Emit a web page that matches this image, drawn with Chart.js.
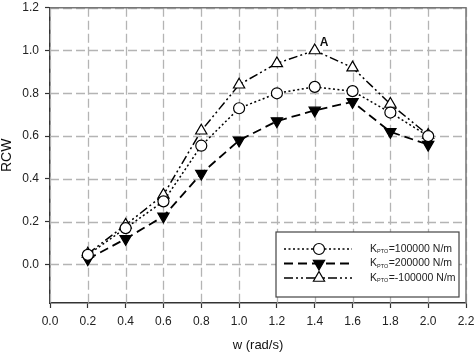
<!DOCTYPE html>
<html>
<head>
<meta charset="utf-8">
<script src="https://cdn.jsdelivr.net/npm/chart.js@4/dist/chart.umd.min.js"></script>
<style>
  html, body { margin: 0; padding: 0; background: #fff; }
  #wrap { width: 474px; height: 352px; }
</style>
</head>
<body>
<div id="wrap"><canvas id="chart1" width="474" height="352"></canvas></div>
<script>
// values
var w = [0.2, 0.4, 0.6, 0.8, 1.0, 1.2, 1.4, 1.6, 1.8, 2.0]
var rcw_100000 = [0.045, 0.17, 0.295, 0.555, 0.73, 0.80, 0.83, 0.81, 0.71, 0.60]
var rcw_200000 = [0.025, 0.12, 0.225, 0.425, 0.58, 0.67, 0.72, 0.76, 0.62, 0.56]
var rcw_neg100000 = [0.05, 0.185, 0.325, 0.625, 0.84, 0.94, 1.0, 0.92, 0.75, 0.605]
var x_ticks = [0.0, 0.2, 0.4, 0.6, 0.8, 1.0, 1.2, 1.4, 1.6, 1.8, 2.0, 2.2]
var y_ticks = [0.0, 0.2, 0.4, 0.6, 0.8, 1.0, 1.2]
var legend_labels = ["=100000 N/m", "=200000 N/m", "=-100000 N/m"]
var note_text = "A"
var note_x = 1.4
var note_y = 1.0

var font_name = "'Liberation Sans', Arial, sans-serif"

function make_points(ys){
    pts = []
    ys.forEach((y, i) => {
        pts.push({x: w[i], y: y})
    })
    return pts
}

function draw_marker(ctx, style, x, y){
    ctx.save()
    ctx.setLineDash([])
    ctx.lineWidth = 1.2
    ctx.strokeStyle = "#000"
    ctx.beginPath()
    if (style == "circle"){
        ctx.arc(x, y, 5.5, 0, Math.PI * 2)
        ctx.fillStyle = "#fff"
    } else if (style == "up"){
        ctx.moveTo(x, y - 6.5)
        ctx.lineTo(x + 5.6, y + 3.25)
        ctx.lineTo(x - 5.6, y + 3.25)
        ctx.closePath()
        ctx.fillStyle = "#fff"
    } else {
        ctx.moveTo(x, y + 6.5)
        ctx.lineTo(x + 5.6, y - 3.25)
        ctx.lineTo(x - 5.6, y - 3.25)
        ctx.closePath()
        ctx.fillStyle = "#000"
    }
    ctx.fill()
    ctx.stroke()
    ctx.restore()
}

var markers = ["circle", "down", "up"]

const gridPlugin = {
    id: "dashgrid",
    beforeDatasetsDraw(chart){
        var ctx = chart.ctx
        var a = chart.chartArea
        var xs = chart.scales.x
        var ys = chart.scales.y
        ctx.save()
        ctx.strokeStyle = "#b4b4b4"
        ctx.lineWidth = 1.3
        ctx.setLineDash([9, 4])
        x_ticks.forEach(v => {
            var px = Math.round(xs.getPixelForValue(v)) + 0.5
            ctx.beginPath()
            ctx.moveTo(px, a.top)
            ctx.lineTo(px, a.bottom)
            ctx.stroke()
        })
        y_ticks.forEach(v => {
            var py = Math.round(ys.getPixelForValue(v)) + 0.5
            ctx.beginPath()
            ctx.moveTo(a.left, py)
            ctx.lineTo(a.right, py)
            ctx.stroke()
        })
        ctx.restore()
    }
}

const framePlugin = {
    id: "frame",
    afterDraw(chart){
        var ctx = chart.ctx
        var a = chart.chartArea
        var xs = chart.scales.x
        var ys = chart.scales.y
        ctx.save()
        // top and right frame
        ctx.strokeStyle = "#777"
        ctx.lineWidth = 1.5
        ctx.beginPath()
        ctx.moveTo(a.left, a.top)
        ctx.lineTo(a.right, a.top)
        ctx.lineTo(a.right, a.bottom)
        ctx.stroke()

        // note "A"
        ctx.fillStyle = "#111"
        ctx.font = "bold 12px " + font_name
        ctx.textAlign = "left"
        ctx.textBaseline = "middle"
        ctx.fillText(note_text, xs.getPixelForValue(note_x) + 5, ys.getPixelForValue(note_y) - 8)

        // legend box
        var bx = 276, by = 232, bw = 183, bh = 65
        ctx.fillStyle = "#fff"
        ctx.fillRect(bx, by, bw, bh)
        ctx.strokeStyle = "#444"
        ctx.lineWidth = 1.2
        ctx.strokeRect(bx, by, bw, bh)

        chart.data.datasets.forEach((ds, i) => {
            var ry = by + 17 + i * 14.5
            ctx.save()
            ctx.strokeStyle = "#000"
            ctx.lineWidth = ds.borderWidth
            ctx.setLineDash(ds.borderDash)
            ctx.beginPath()
            ctx.moveTo(bx + 8, ry)
            ctx.lineTo(bx + 76, ry)
            ctx.stroke()
            ctx.restore()
            draw_marker(ctx, markers[i], bx + 43, ry)

            ctx.fillStyle = "#222"
            ctx.textBaseline = "middle"
            ctx.textAlign = "left"
            ctx.font = "10.5px " + font_name
            var tx = bx + 94
            ctx.fillText("K", tx, ry)
            tx += ctx.measureText("K").width
            ctx.font = "5.5px " + font_name
            ctx.fillText("PTO", tx, ry + 2.5)
            tx += ctx.measureText("PTO").width + 0.5
            ctx.font = "10.5px " + font_name
            ctx.fillText(legend_labels[i], tx, ry)
        })
        ctx.restore()
    }
}

var ctx1 = document.getElementById("chart1")
const myChart = new Chart(ctx1, {
    type: "line",
    data: {
        datasets: [{
            data: make_points(rcw_100000),
            borderColor: "#000",
            borderWidth: 1.5,
            borderDash: [2, 2.5],
            pointStyle: "circle",
            pointRadius: 5.5,
            pointBackgroundColor: "#fff",
            pointBorderColor: "#000",
            pointBorderWidth: 1.2
        }, {
            data: make_points(rcw_200000),
            borderColor: "#000",
            borderWidth: 1.8,
            borderDash: [9, 5],
            pointStyle: "triangle",
            pointRotation: 180,
            pointRadius: 6.5,
            pointBackgroundColor: "#000",
            pointBorderColor: "#000",
            pointBorderWidth: 1.2
        }, {
            data: make_points(rcw_neg100000),
            borderColor: "#000",
            borderWidth: 1.5,
            borderDash: [9, 3, 2, 3, 2, 3],
            pointStyle: "triangle",
            pointRadius: 6.5,
            pointBackgroundColor: "#fff",
            pointBorderColor: "#000",
            pointBorderWidth: 1.2
        }]
    },
    options: {
        responsive: false,
        animation: false,
        layout: { padding: { top: 4, right: 8, left: 0, bottom: 0 } },
        scales: {
            x: {
                type: "linear",
                min: 0,
                max: 2.2,
                afterFit: function(scale){
                    scale.height = 49
                    scale.paddingLeft = 0
                    scale.paddingRight = 0
                },
                afterBuildTicks: function(scale){
                    scale.ticks = x_ticks.map(v => ({value: v}))
                },
                grid: {
                    drawOnChartArea: false,
                    tickLength: 5,
                    tickColor: "#333",
                    tickWidth: 1.2
                },
                border: { color: "#333", width: 1.5 },
                ticks: {
                    color: "#222",
                    padding: 6,
                    font: { family: font_name, size: 12 },
                    callback: function(v){ return v.toFixed(1) }
                },
                title: {
                    display: true,
                    text: "w (rad/s)",
                    color: "#111",
                    font: { family: font_name, size: 13 },
                    padding: { top: 4, bottom: -1.5 }
                }
            },
            y: {
                type: "linear",
                min: -0.18,
                max: 1.2,
                afterFit: function(scale){
                    scale.width = 50
                    scale.paddingTop = 0
                    scale.paddingBottom = 0
                },
                afterBuildTicks: function(scale){
                    scale.ticks = y_ticks.map(v => ({value: v}))
                },
                grid: {
                    drawOnChartArea: false,
                    tickLength: 5,
                    tickColor: "#333",
                    tickWidth: 1.2
                },
                border: { color: "#333", width: 1.5 },
                ticks: {
                    color: "#222",
                    padding: 6,
                    font: { family: font_name, size: 12 },
                    callback: function(v){ return v.toFixed(1) }
                },
                title: {
                    display: true,
                    text: "RCW",
                    color: "#111",
                    font: { family: font_name, size: 14, lineHeight: 1 },
                    padding: { top: 0, bottom: 0 }
                }
            }
        },
        plugins: {
            legend: { display: false },
            tooltip: { enabled: false }
        }
    },
    plugins: [gridPlugin, framePlugin]
})
</script>
</body>
</html>
